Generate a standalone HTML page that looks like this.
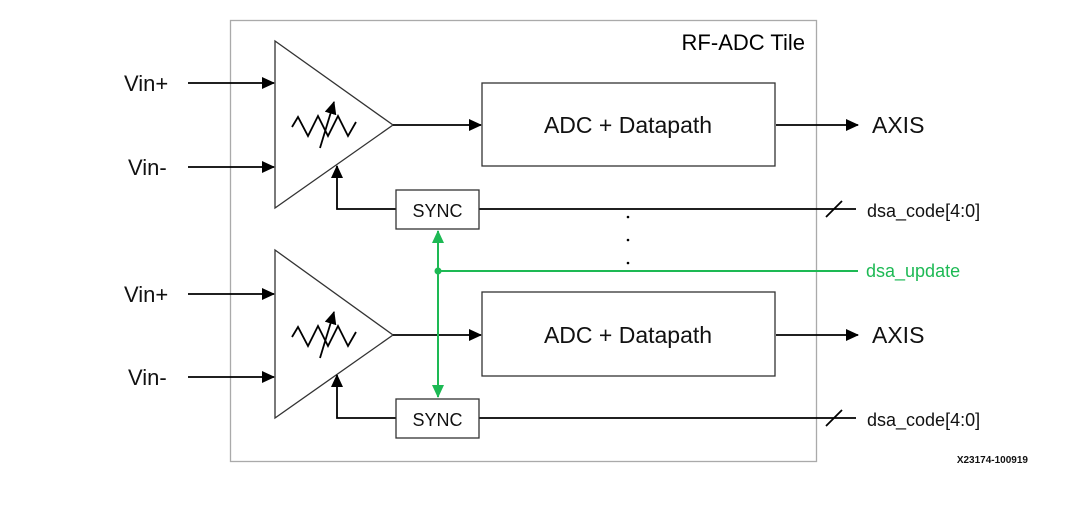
<!DOCTYPE html>
<html><head><style>body{margin:0;background:#fff}</style></head><body>
<svg width="1067" height="509" xmlns="http://www.w3.org/2000/svg" font-family="Liberation Sans, sans-serif">
<defs>
<marker id="a" markerWidth="13" markerHeight="12" refX="12" refY="6" orient="auto" markerUnits="userSpaceOnUse"><path d="M0,0 L13,6 L0,12 z" fill="#000"/></marker>
<marker id="g" markerWidth="13" markerHeight="12" refX="12" refY="6" orient="auto" markerUnits="userSpaceOnUse"><path d="M0,0 L13,6 L0,12 z" fill="#1db954"/></marker>
</defs>
<rect x="230.5" y="20.5" width="586" height="441" fill="none" stroke="#aaa" stroke-width="1.3"/>
<text x="805" y="50" font-size="22" text-anchor="end">RF-ADC Tile</text>
<g stroke="#000" stroke-width="1.8" fill="none">
<polygon points="275,41 275,208 393,125" stroke="#333" stroke-width="1.3"/>
<polyline points="292,127 298,117 308,136 318,116 328,136 338,116 348,136 356,122"/>
<line x1="320" y1="148" x2="334" y2="102" marker-end="url(#a)"/>
<line x1="188" y1="83" x2="274" y2="83" marker-end="url(#a)"/>
<line x1="188" y1="167" x2="274" y2="167" marker-end="url(#a)"/>
<line x1="393" y1="125" x2="481" y2="125" marker-end="url(#a)"/>
<line x1="776" y1="125" x2="858" y2="125" marker-end="url(#a)"/>
<polyline points="396,209 337,209 337,166" marker-end="url(#a)"/>
<line x1="479" y1="209" x2="856" y2="209"/>
<line x1="826" y1="217" x2="842" y2="201"/>
<polygon points="275,250 275,418 393,335" stroke="#333" stroke-width="1.3"/>
<polyline points="292,337 298,327 308,346 318,326 328,346 338,326 348,346 356,332"/>
<line x1="320" y1="358" x2="334" y2="312" marker-end="url(#a)"/>
<line x1="188" y1="294" x2="274" y2="294" marker-end="url(#a)"/>
<line x1="188" y1="377" x2="274" y2="377" marker-end="url(#a)"/>
<line x1="393" y1="335" x2="481" y2="335" marker-end="url(#a)"/>
<line x1="776" y1="335" x2="858" y2="335" marker-end="url(#a)"/>
<polyline points="396,418 337,418 337,375" marker-end="url(#a)"/>
<line x1="479" y1="418" x2="856" y2="418"/>
<line x1="826" y1="426" x2="842" y2="410"/>
</g>
<g fill="#fff" stroke="#333" stroke-width="1.3">
<rect x="482" y="83" width="293" height="83"/>
<rect x="482" y="292" width="293" height="84"/>
<rect x="396" y="190" width="83" height="39"/>
<rect x="396" y="399" width="83" height="39"/>
</g>
<g stroke="#1db954" stroke-width="2" fill="none">
<line x1="438" y1="271" x2="438" y2="231" marker-end="url(#g)"/>
<line x1="438" y1="271" x2="438" y2="397" marker-end="url(#g)"/>
<line x1="438" y1="271" x2="858" y2="271"/>
</g>
<circle cx="438" cy="271" r="3.5" fill="#1db954"/>
<g fill="#000">
<circle cx="628" cy="217" r="1.3"/><circle cx="628" cy="240" r="1.3"/><circle cx="628" cy="263" r="1.3"/>
</g>
<g font-size="22" fill="#111">
<text x="124" y="91">Vin+</text><text x="128" y="175">Vin-</text>
<text x="124" y="302">Vin+</text><text x="128" y="385">Vin-</text>
<text x="628" y="133" text-anchor="middle" font-size="23">ADC + Datapath</text>
<text x="628" y="343" text-anchor="middle" font-size="23">ADC + Datapath</text>
<text x="872" y="133" font-size="23">AXIS</text>
<text x="872" y="343" font-size="23">AXIS</text>
<text x="437.5" y="217" text-anchor="middle" font-size="18">SYNC</text>
<text x="437.5" y="426" text-anchor="middle" font-size="18">SYNC</text>
<text x="867" y="217" font-size="18">dsa_code[4:0]</text>
<text x="867" y="426" font-size="18">dsa_code[4:0]</text>
<text x="866" y="277" font-size="18" fill="#1db954">dsa_update</text>
<text x="1028" y="463" font-size="10" text-anchor="end" font-weight="bold">X23174-100919</text>
</g>
</svg>
</body></html>
